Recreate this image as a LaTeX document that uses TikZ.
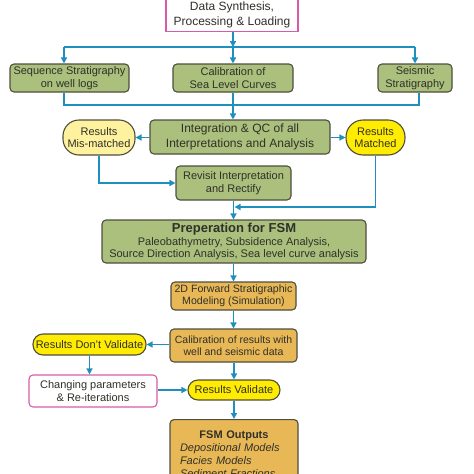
\documentclass[tikz,border=0pt]{standalone}
\usepackage{fontspec}
\setmainfont{Liberation Sans}
\usepackage{xcolor}
\usetikzlibrary{arrows.meta,positioning,calc}
\definecolor{boxgreen}{RGB}{170,192,124}
\definecolor{boxorange}{RGB}{232,184,86}
\definecolor{flowblue}{RGB}{30,144,190}
\definecolor{pillyellow}{RGB}{255,236,0}
\definecolor{paleyellow}{RGB}{255,242,158}
\definecolor{edgepink}{RGB}{214,92,170}
\definecolor{edgedark}{RGB}{78,78,62}
\definecolor{inkdark}{RGB}{48,48,42}

\begin{document}
\begin{tikzpicture}[x=1pt,y=-1pt,>={Triangle[length=6pt,width=6pt]},
  every node/.style={text=inkdark,align=center,inner sep=1pt},
  txt/.style={font=\fontsize{11}{12.5}\selectfont},
  bigtxt/.style={font=\fontsize{12}{15}\selectfont},
  greenbox/.style={txt,draw=edgedark,fill=boxgreen,line width=1.1pt,rounded corners=4pt},
  orangebox/.style={txt,draw=edgedark,fill=boxorange,line width=1.1pt,rounded corners=4pt},
  pinkbox/.style={txt,draw=edgepink,fill=white,line width=1.1pt},
  pill/.style={txt,draw=edgedark,line width=1.1pt},
  flow/.style={draw=flowblue,line width=1.4pt}]
  \useasboundingbox (0,0) rectangle (474,474);

  \node[pinkbox,bigtxt,minimum width=132pt,minimum height=34pt] (data) at (232,14.5) {Data Synthesis,\\Processing \& Loading};

  \node[greenbox,minimum width=119pt,minimum height=28pt] (seq) at (69.5,78) {Sequence Stratigraphy\\on well logs};
  \node[greenbox,minimum width=120pt,minimum height=28pt] (calsea) at (233,78) {Calibration of\\Sea Level Curves};
  \node[greenbox,minimum width=74pt,minimum height=28pt] (seis) at (415,78) {Seismic\\Stratigraphy};

  \node[greenbox,bigtxt,minimum width=180pt,minimum height=34pt] (integ) at (240,137) {Integration \& QC of all\\Interpretations and Analysis};
  \node[pill,fill=paleyellow,minimum width=72pt,minimum height=35pt,rounded corners=16pt] (mism) at (99,137.5) {Results\\Mis-matched};
  \node[pill,fill=pillyellow,minimum width=59pt,minimum height=35pt,rounded corners=17pt] (match) at (375.5,137.5) {Results\\Matched};

  \node[greenbox,minimum width=115pt,minimum height=34pt] (revis) at (233.5,183) {Revisit Interpretation\\and Rectify};

  \node[greenbox,minimum width=264pt,minimum height=43pt] (prep) at (234,241.5) {{\fontsize{13}{15}\selectfont\bfseries Preperation for FSM}\\Paleobathymetry, Subsidence Analysis,\\Source Direction Analysis, Sea level curve analysis};

  \node[orangebox,font=\fontsize{10.6}{12.5}\selectfont,inner sep=0pt,minimum width=125pt,minimum height=28pt] (fwd) at (233.5,296) {2D Forward Stratigraphic\\Modeling (Simulation)};
  \node[orangebox,font=\fontsize{10.5}{12.5}\selectfont,inner sep=0pt,minimum width=127pt,minimum height=33pt] (calres) at (233.5,345.5) {Calibration of results with\\well and seismic data};

  \node[pill,fill=pillyellow,minimum width=113pt,minimum height=21pt,rounded corners=10pt] (dontv) at (89.5,344.5) {Results Don't Validate};
  \node[pinkbox,draw=edgepink,rounded corners=4pt,minimum width=128pt,minimum height=32pt] (chg) at (93,391) {Changing parameters\\\& Re-iterations};
  \node[pill,fill=pillyellow,minimum width=92pt,minimum height=20pt,rounded corners=10pt] (valid) at (234,390) {Results Validate};

  \node[orangebox,font=\fontsize{11}{13}\selectfont,anchor=north,text width=108pt,inner xsep=10pt,inner ysep=2pt,align=left,minimum height=70pt] (out) at (234,419) {\makebox[\linewidth][c]{\bfseries FSM Outputs}\\\itshape Depositional Models\\\itshape Facies Models\\\itshape Sediment Fractions};

  % junctions of the feeders
  \coordinate (bus1) at (233,47);
  \coordinate (busL) at (64,47);
  \coordinate (busR) at (415,47);
  \coordinate (busBL) at (64,105);
  \coordinate (busBR) at (419,105);
  \coordinate (mjoin) at (234.5,207);

  \draw[flow,->] (data.south -| bus1) -- (bus1);
  \draw[flow] (busL) -- (busR);
  \draw[flow,->] (busL) -- (busL |- seq.north);
  \draw[flow,->] (bus1) -- (bus1 |- calsea.north);
  \draw[flow,->] (busR) -- (busR |- seis.north);
  \draw[flow] (busBL |- seq.south) -- (busBL) -- (busBR) -- (busBR |- seis.south);
  \draw[flow,->] (calsea.south) -- (calsea.south |- integ.north);

  \draw[flow,->] (integ.west |- mism.east) -- (mism.east);
  \draw[flow,->] (integ.east |- match.west) -- (match.west);
  \draw[flow,->] (mism.south) |- (revis.west);
  \draw[flow,->] (match.south) |- (mjoin);
  \draw[flow,->] (revis.south) -- (revis.south |- prep.north);

  \draw[flow,->] (prep.south -| fwd.north) -- (fwd.north);
  \draw[flow,->] (fwd.south) -- (calres.north);
  \draw[flow,->] (calres.west |- dontv.east) -- (dontv.east);
  \draw[flow,->] (dontv.south) -- (dontv.south |- chg.north);
  \draw[flow,->] (chg.east |- valid.west) -- (valid.west);
  \draw[flow,->] (calres.south -| valid.north) -- (valid.north);
  \draw[flow,->] (valid.south) -- (out.north);
\end{tikzpicture}
\end{document}
